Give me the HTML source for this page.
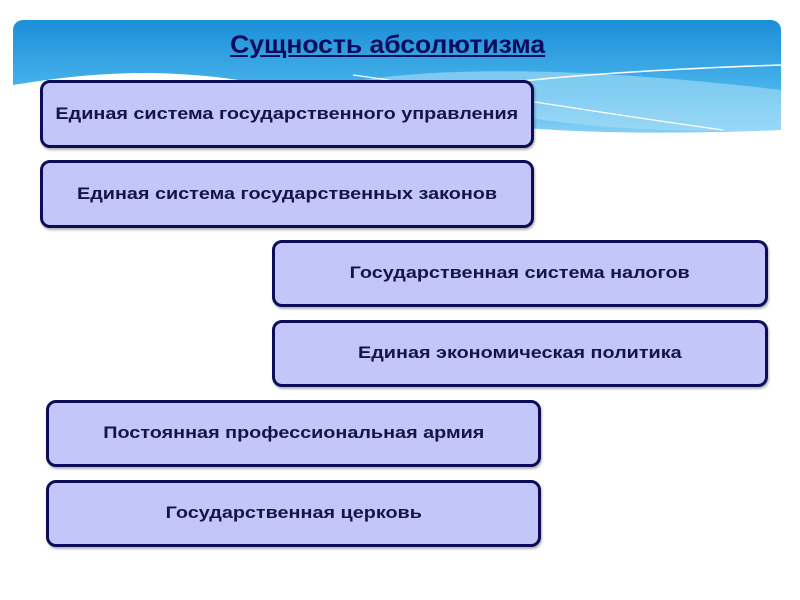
<!DOCTYPE html>
<html><head><meta charset="utf-8"><style>
body{margin:0;width:800px;height:600px;background:#fff;position:relative;overflow:hidden;font-family:"Liberation Sans",sans-serif}
.hdr{position:absolute;left:13px;top:20px;width:768px;height:120px;border-radius:10px 10px 0 0;overflow:hidden}
.t{position:absolute;left:0;width:776px;top:31px;text-align:center;font-size:25px;font-weight:bold;color:#0c0c5c}
.t span{display:inline-block;transform:scaleX(1.06);text-decoration:underline}
.b{position:absolute;box-sizing:border-box;border:3px solid #0c0c5a;border-radius:10px;background:#c2c6f8;display:flex;align-items:center;justify-content:center;font-size:16.5px;font-weight:bold;color:#14144a;box-shadow:1px 2px 2px rgba(0,0,0,.3)}
.b span{display:inline-block;transform:scaleX(1.2);white-space:nowrap}
</style></head><body>
<div class="hdr"><svg width="768" height="120">
<defs><linearGradient id="g" x1="0" y1="0" x2="0" y2="1"><stop offset="0" stop-color="#1c8fd8"/><stop offset=".6" stop-color="#4ab4ec"/><stop offset="1" stop-color="#8ed4f6"/></linearGradient></defs>
<rect width="768" height="120" fill="url(#g)"/>
<path d="M0 65 C120 45 200 50 330 80 C430 100 520 120 768 110 L768 120 L0 120Z" fill="#fff"/>
<path d="M0 75 C120 55 230 60 330 80 L0 120Z" fill="#fff"/>
<path d="M350 60 C450 45 600 50 768 70 L768 110 C600 115 480 100 350 60Z" fill="#a8ddf7" opacity=".6"/>
<path d="M330 90 C450 60 620 50 768 45" stroke="#fff" fill="none" stroke-width="1.5"/>
<path d="M340 55 C450 70 600 95 710 110" stroke="#fff" fill="none" stroke-width="1.2"/>
</svg></div>
<div class="t"><span>Сущность абсолютизма</span></div>
<div class="b" style="left:40px;top:80px;width:494px;height:68px"><span>Единая система государственного управления</span></div>
<div class="b" style="left:40px;top:160px;width:494px;height:68px"><span>Единая система государственных законов</span></div>
<div class="b" style="left:272px;top:240px;width:496px;height:67px"><span>Государственная система налогов</span></div>
<div class="b" style="left:272px;top:320px;width:496px;height:67px"><span>Единая экономическая политика</span></div>
<div class="b" style="left:46px;top:400px;width:495px;height:67px"><span>Постоянная профессиональная армия</span></div>
<div class="b" style="left:46px;top:480px;width:495px;height:67px"><span>Государственная церковь</span></div>
</body></html>
